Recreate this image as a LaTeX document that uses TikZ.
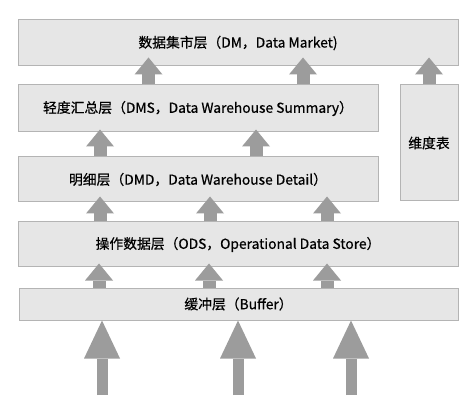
\documentclass[tikz,border=0pt]{standalone}
\usepackage{fontspec}
\setmainfont{Noto Sans CJK SC}
\newfontfamily\layerfont{Noto Sans CJK SC}[FakeBold=0.6]
\usetikzlibrary{arrows.meta}
\definecolor{boxfill}{HTML}{E6E6E6}
\definecolor{boxline}{HTML}{B4B4B4}
\definecolor{arrowgray}{HTML}{9C9C9C}

\begin{document}
\begin{tikzpicture}[x=1pt,y=-1pt,
	layer/.style={rectangle, draw=boxline, fill=boxfill, line width=1pt, inner sep=0pt, font=\layerfont\fontsize{13.8}{16}\selectfont},
	fat/.style={draw=arrowgray, line width=13pt, -{Triangle[width=28pt,length=17pt,line width=0pt]}},
	bigfat/.style={draw=arrowgray, line width=11pt, -{Triangle[width=36pt,length=38pt,line width=0pt]}},
	]
	\useasboundingbox (0,0) rectangle (474,406);
	%Layers
	\node[layer, minimum width=440pt, minimum height=46pt] (dm)  at (238,43)    {数据集市层（DM，Data Market)};
	\node[layer, minimum width=360pt, minimum height=47pt] (dms) at (198,108.5) {轻度汇总层（DMS，Data Warehouse Summary）};
	\node[layer, minimum width=58pt,  minimum height=116pt] (dim) at (429,143)  {维度表};
	\node[layer, minimum width=360pt, minimum height=45pt] (dmd) at (198,179.5) {明细层（DMD，Data Warehouse Detail）};
	\node[layer, minimum width=440pt, minimum height=45pt] (ods) at (238,244.5) {操作数据层（ODS，Operational Data Store）};
	\node[layer, minimum width=439pt, minimum height=32pt] (buf) at (238.5,304) {缓冲层（Buffer）};
	\coordinate (src1) at (102,395);
	\coordinate (src2) at (238,395);
	\coordinate (src3) at (351,395);

	%Arrows
	\foreach \x in {148.5,303}
		\draw[fat] (dms.north -| \x,0) -- ([yshift=9pt]dm.south -| \x,0);
	\draw[fat] (dim.north) -- ([yshift=9pt]dm.south -| dim.north);
	\foreach \x in {100,256}
		\draw[fat] (dmd.north -| \x,0) -- ([yshift=3pt]dms.south -| \x,0);
	\foreach \x in {100,210,327}
		\draw[fat] (ods.north -| \x,0) -- ([yshift=6pt]dmd.south -| \x,0);
	\foreach \x in {99,209,327}
		\draw[fat] (buf.north -| \x,0) -- ([yshift=4pt]ods.south -| \x,0);
	\foreach \i in {1,2,3}
		\draw[bigfat] (src\i) -- (src\i |- buf.south);
\end{tikzpicture}
\end{document}
